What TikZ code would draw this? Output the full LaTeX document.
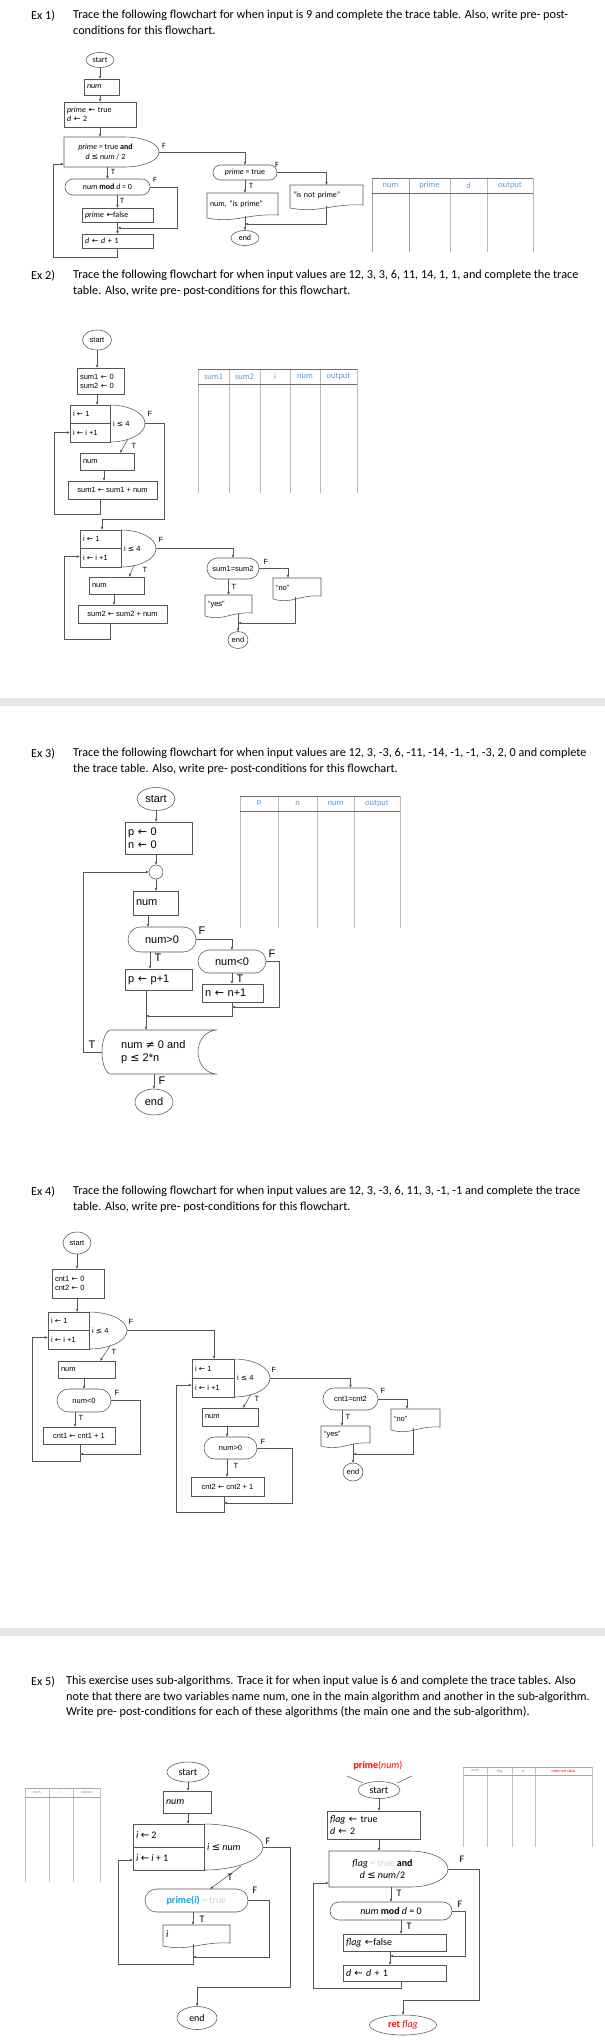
\documentclass[tikz,border=0pt]{standalone}
\usepackage{fontspec}
\setmainfont{Carlito}
\newfontfamily\arial{Liberation Sans}
\newfontfamily\dejavu{DejaVu Sans}
\usetikzlibrary{arrows.meta,shapes.geometric}
\definecolor{lc}{RGB}{85,85,85}
\definecolor{hblue}{RGB}{91,155,213}
\definecolor{cblue}{RGB}{0,170,235}
\definecolor{band}{RGB}{230,230,230}
\newcommand\myla{{\dejavu ←}}
\newcommand\myle{{\dejavu ≤}}
\newcommand\myne{{\dejavu ≠}}
\newcommand\myHD{\fontsize{12.2}{15.5}\selectfont}
\newcommand\myFA{\fontsize{8}{9.5}\selectfont}
\newcommand\myFB{\arial\fontsize{7.5}{9}\selectfont}
\newcommand\myFC{\arial\fontsize{11}{13}\selectfont}
\newcommand\myFD{\fontsize{10}{12}\selectfont}
\newcommand\myTH{\fontsize{8.5}{10}\selectfont}
\newcommand\myTS{\fontsize{4}{5}\selectfont}
\tikzset{
 ln/.style={draw=lc,line width=.55pt},
 arr/.style={ln,-{Latex[length=3.2pt,width=2.8pt]}},
 bx/.style={draw=lc,line width=.55pt,inner sep=0pt,outer sep=0pt,align=center},
 lft/.style={text width=\qW pt-6pt,align=left},
 lab/.style={inner sep=0pt,outer sep=0pt},
 th/.style={inner sep=0pt,text=hblue},
 hd/.style={anchor=north west,inner sep=0pt,align=left,font=\myHD},
 tv/.style={draw=gray!55,line width=.8pt},
 tvd/.style={draw=gray!75,line width=.8pt},
 tt/.style={draw=gray!85!black,line width=1pt},
}
% box
\newcommand\BX[7][]{%
 \pgfmathsetmacro\qW{#5-#3}\pgfmathsetmacro\qH{#6-#4}%
 \node[bx,minimum width=\qW pt,minimum height=\qH pt,#1] (#2) at ({(#3+#5)/2},{(#4+#6)/2}) {#7};}
% stadium
\newcommand\ST[7][]{%
 \pgfmathsetmacro\qW{#5-#3}\pgfmathsetmacro\qH{#6-#4}\pgfmathsetmacro\qR{(#6-#4)/2}%
 \node[bx,rounded corners=\qR pt,minimum width=\qW pt,minimum height=\qH pt,#1] (#2) at ({(#3+#5)/2},{(#4+#6)/2}) {#7};}
% ellipse
\newcommand\EL[7][]{\node[bx,ellipse,minimum width=#5pt,minimum height=#6pt,#1] (#2) at (#3,#4) {#7};}
% document
\newcommand\DC[7][]{%
 \pgfmathsetmacro\qW{#5-#3}\pgfmathsetmacro\qH{#6-#4-4}%
 \node[bx,draw=none,lft,minimum width=\qW pt,minimum height=\qH pt,#1] (#2) at ({(#3+#5)/2},{(#4+#6-4)/2}) {#7};
 \draw[ln] (#3,{#6-2}) -- (#3,#4) -- (#5,#4) -- (#5,{#6-5}) .. controls ({#5-.45*\qW},{#6-6.5}) and ({#3+.4*\qW},{#6+3.5}) .. (#3,{#6-2});}
% decision bullet
\newcommand\DE[8][]{%
 \pgfmathsetmacro\qW{#6-#3}\pgfmathsetmacro\qH{#7-#4}\pgfmathsetmacro\qM{(#4+#7)/2}%
 \pgfmathsetmacro\qX{#5+.5523*(#6-#5)}\pgfmathsetmacro\qA{\qM-.5523*(\qM-#4)}\pgfmathsetmacro\qB{\qM+.5523*(\qM-#4)}%
 \node[bx,draw=none,minimum width=\qW pt,minimum height=\qH pt] (#2) at ({(#3+#6)/2},\qM) {};
 \draw[ln] (#3,#4) -- (#5,#4) .. controls (\qX,#4) and (#6,\qA) .. (#6,\qM) .. controls (#6,\qB) and (\qX,#7) .. (#5,#7) -- (#3,#7) -- cycle;
 \node[inner sep=0pt,align=center,#1] (#2-t) at ({(#3+#6)/2-6},\qM) {#8};}
% loop block
\newcommand\LB[9]{%
 \pgfmathsetmacro\qM{(#3+#6)/2}\pgfmathsetmacro\qW{#5-#2}\pgfmathsetmacro\qH{#6-#3}%
 \pgfmathsetmacro\qX{#4+.5523*(#5-#4)}\pgfmathsetmacro\qA{\qM-.5523*(\qM-#3)}\pgfmathsetmacro\qB{\qM+.5523*(\qM-#3)}%
 \node[bx,draw=none,minimum width=\qW pt,minimum height=\qH pt] (#1) at ({(#2+#5)/2},\qM) {};
 \draw[ln] (#2,#3) rectangle (#4,#6); \draw[ln] (#2,\qM) -- (#4,\qM);
 \draw[ln] (#4,#3) .. controls (\qX,#3) and (#5,\qA) .. (#5,\qM) .. controls (#5,\qB) and (\qX,#6) .. (#4,#6);
 \node[anchor=west,inner sep=0pt] (#1-a) at ({#2+3},{(#3+\qM)/2}) {#7};
 \node[anchor=west,inner sep=0pt] (#1-b) at ({#2+3},{(\qM+#6)/2}) {#8};
 \node[anchor=west,inner sep=0pt] (#1-c) at ({#4+3},\qM) {#9};}
\begin{document}
\begin{tikzpicture}[x=1pt,y=-1pt]
\useasboundingbox (0,0) rectangle (605,2040);
\fill[white] (0,0) rectangle (605,2040);
\fill[band] (0,698) rectangle (605,706);
\fill[band] (0,1628) rectangle (605,1636);
% ---------------- headings
\node[hd] (h1n) at (31,10) {Ex 1)};
\node[hd] (h1t) at (73,10) {Trace the following flowchart for when input is 9 and complete the trace table. Also, write pre- post-\\conditions for this flowchart.};
\node[hd] (h2n) at (31,270) {Ex 2)};
\node[hd] (h2t) at (73,270) {Trace the following flowchart for when input values are 12, 3, 3, 6, 11, 14, 1, 1, and complete the trace\\table. Also, write pre- post-conditions for this flowchart.};
\node[hd] (h3n) at (31,748) {Ex 3)};
\node[hd] (h3t) at (73,748) {Trace the following flowchart for when input values are 12, 3, -3, 6, -11, -14, -1, -1, -3, 2, 0 and complete\\the trace table. Also, write pre- post-conditions for this flowchart.};
\node[hd] (h4n) at (31,1186) {Ex 4)};
\node[hd] (h4t) at (73,1186) {Trace the following flowchart for when input values are 12, 3, -3, 6, 11, 3, -1, -1 and complete the trace\\table. Also, write pre- post-conditions for this flowchart.};
\node[hd] (h5n) at (31,1676) {Ex 5)};
\node[hd] (h5t) at (66,1676) {This exercise uses sub-algorithms. Trace it for when input value is 6 and complete the trace tables. Also\\note that there are two variables name num, one in the main algorithm and another in the sub-algorithm.\\Write pre- post-conditions for each of these algorithms (the main one and the sub-algorithm).};
% ---------------- Ex 1
\begin{scope}[font=\myFA]
\EL{e1s}{100}{60}{28}{15}{start}
\BX[lft]{e1n}{84}{79}{119}{95}{\textit{num}}
\BX[lft]{e1i}{64}{102}{136}{127}{\textit{prime} \myla{} true\\\textit{d} \myla{} 2}
\DE{e1d}{64}{137}{125}{159}{167}{\textit{prime} = true \textbf{and}\\\textit{d} \myle{} \textit{num} / 2}
\ST{e1m}{65}{179}{150}{195}{\textit{num} \textbf{mod} \textit{d} = 0}
\BX[lft]{e1f}{82}{208}{153}{222}{\textit{prime} \myla{}false}
\BX[lft]{e1inc}{82}{234}{153}{248}{\textit{d} \myla{} \textit{d} + 1}
\ST{e1p}{213}{165}{277}{180}{\textit{prime} = true}
\DC{e1o}{207}{193}{278}{220}{num, “is prime”}
\DC{e1x}{290}{185}{363}{210}{“is not prime”}
\EL{e1e}{245}{238}{28}{15}{end}
\draw[arr] (e1s.south) -- (e1s.south |- e1n.north);
\draw[arr] (e1s.south |- e1n.south) -- (e1s.south |- e1i.north);
\draw[arr] (e1s.south |- e1i.south) -- (e1s.south |- e1d.north);
\draw[arr] (e1d.east) -| (e1p.north);
\node[lab] (e1lF1) at (164,146) {F};
\draw[arr] (e1m.north |- e1d.south) -- (e1m.north);
\node[lab] (e1lT1) at (113,172) {T};
\draw[arr] (e1f.north |- e1m.south) -- (e1f.north);
\node[lab] (e1lT2) at (122,201) {T};
\coordinate (e1c1) at (177,228);
\draw[arr] (e1m.east) -| (e1c1) -- (e1f.south |- e1c1);
\node[lab] (e1lF2) at (155,180) {F};
\draw[arr] (e1f.south) -- (e1inc.north);
\coordinate (e1c2) at (53,257);
\draw[arr] (e1inc.south) |- (e1c2) |- ([yshift=-12pt]e1d.west);
\draw[arr] (e1p.south) -- (e1p.south |- e1o.north);
\node[lab] (e1lT3) at (251,186) {T};
\draw[arr] (e1p.east) -| (e1x.north);
\node[lab] (e1lF3) at (277,165) {F};
\coordinate (e1j) at (245,224);
\draw[arr] (e1x.south) |- (e1j);
\draw[arr] (e1p.south |- e1o.south) -- (e1e.north);
\end{scope}
% table 1
\foreach \xx in {372,409} \draw[tvd] (\xx,178) -- (\xx,252);
\foreach \xx in {450,487,533} \draw[tv] (\xx,178) -- (\xx,252);
\draw[tt] (372,178) -- (533,178); \draw[tt] (372,193) -- (533,193);
\begin{scope}[font=\myTH]
\node[th] (t1a) at (390.5,185.5) {num};
\node[th] (t1b) at (429.5,185.5) {prime};
\node[th] (t1c) at (468.5,185.5) {d};
\node[th] (t1d) at (510,185.5) {output};
\end{scope}
% ---------------- Ex 2
\begin{scope}[font=\myFB]
\EL{e2s}{97}{340}{29}{20}{start}
\BX[lft]{e2i}{77}{368}{124}{394}{sum1 \myla{} 0\\sum2 \myla{} 0}
\LB{e2L1}{70}{405}{110}{145}{442}{i \myla{} 1}{i \myla{} i +1}{i \myle{} 4}
\BX[lft]{e2n1}{80}{453}{134}{470}{num}
\BX{e2a1}{68}{481}{157}{499}{sum1 \myla{} sum1 + num}
\LB{e2L2}{80}{530}{121}{156}{567}{i \myla{} 1}{i \myla{} i +1}{i \myle{} 4}
\BX[lft]{e2n2}{89}{577}{144}{594}{num}
\BX{e2a2}{78}{605}{167}{623}{sum2 \myla{} sum2 + num}
\ST{e2q}{207}{558}{259}{579}{sum1=sum2}
\DC{e2y}{205}{595}{252}{618}{“yes”}
\DC{e2no}{273}{578}{321}{601}{“no”}
\EL{e2e}{238}{640}{20}{17}{end}
\draw[arr] (e2s.south) -- (e2s.south |- e2i.north);
\draw[arr] (e2s.south |- e2i.south) -- (e2s.south |- e2L1.north);
\coordinate (e2c1) at (164,519);
\draw[arr] (e2L1.east) -| (e2c1) -| ([xshift=22pt]e2L2.north west);
\node[lab] (e2F1) at (150,414) {F};
\draw[arr] ([xshift=-17pt,yshift=3pt]e2L1.south east) -- ([xshift=40pt]e2n1.north west);
\node[lab] (e2T1) at (134,446) {T};
\draw[arr] ([xshift=24pt]e2n1.south west) -- ([xshift=24pt]e2n1.south west |- e2a1.north);
\coordinate (e2c2) at (54,514);
\draw[arr] ([xshift=32pt]e2a1.south west) |- (e2c2) |- ([yshift=-9pt]e2L1.west);
\draw[arr] (e2L2.east) -| (e2q.north);
\node[lab] (e2F2) at (161,540) {F};
\draw[arr] ([xshift=-22pt,yshift=2pt]e2L2.south east) -- ([xshift=40pt]e2n2.north west);
\node[lab] (e2T2) at (145,570) {T};
\draw[arr] ([xshift=25pt]e2n2.south west) -- ([xshift=25pt]e2n2.south west |- e2a2.north);
\coordinate (e2c3) at (64,639);
\draw[arr] ([xshift=32pt]e2a2.south west) |- (e2c3) |- ([yshift=-8pt]e2L2.west);
\draw[arr] (e2y.north |- e2q.south) -- (e2y.north);
\node[lab] (e2T3) at (234,587) {T};
\draw[arr] (e2q.east) -| ([xshift=15pt]e2no.north west);
\node[lab] (e2F3) at (266,562) {F};
\coordinate (e2j) at (238,623);
\draw[arr] (e2e.north |- e2y.south) -- (e2e.north);
\draw[arr] ([xshift=22pt]e2no.south west) |- (e2j);
\end{scope}
% table 2
\foreach \xx in {198,229,260,290,320,357} \draw[tv] (\xx,369) -- (\xx,493);
\draw[tt] (198,369) -- (357,369); \draw[tt] (198,384) -- (357,384);
\begin{scope}[font=\myTH]
\node[th] (t2a) at (213.5,376.5) {sum1};
\node[th] (t2b) at (244.5,376.5) {sum2};
\node[th] (t2c) at (275,376.5) {i};
\node[th] (t2d) at (305,376.5) {num};
\node[th] (t2e) at (338.5,376.5) {output};
\end{scope}
% ---------------- Ex 3
\begin{scope}[font=\myFC]
\EL{e3s}{156}{799}{38}{23}{start}
\BX[lft]{e3i}{125}{822}{192}{854}{p \myla{} 0\\n \myla{} 0}
\node[bx,circle,minimum size=14pt] (e3c) at (156,872) {};
\BX[lft]{e3n}{133}{891}{178}{915}{num}
\ST{e3g}{128}{927}{196}{952}{num>0}
\ST{e3l}{198}{950}{266}{973}{num<0}
\BX[lft]{e3p}{125}{969}{192}{990}{p \myla{} p+1}
\BX[lft]{e3q}{202}{984}{263}{1002}{n \myla{} n+1}
\node[bx,draw=none,minimum width=115pt,minimum height=44pt] (e3d) at (159.5,1052) {};
\draw[ln] (111,1030) -- (217,1030) .. controls (206.5,1030) and (198,1040) .. (198,1052) .. controls (198,1064) and (206.5,1074) .. (217,1074) -- (111,1074) .. controls (106,1074) and (102,1064) .. (102,1052) .. controls (102,1040) and (106,1030) .. (111,1030) -- cycle;
\node[anchor=west,align=left,inner sep=0pt] (e3d-t) at (121,1052) {num \myne{} 0 and\\p \myle{} 2*n};
\EL{e3e}{154}{1102}{38}{26}{end}
\draw[arr] (e3s.south) -- (e3s.south |- e3i.north);
\draw[arr] (e3s.south |- e3i.south) -- (e3c.north);
\draw[arr] (e3c.south) -- (e3c.south |- e3n.north);
\draw[arr] ([xshift=15pt]e3n.south west) -- ([xshift=15pt]e3n.south west |- e3g.north);
\draw[arr] (e3g.east) -| (e3l.north);
\node[lab] (e3F1) at (202,931) {F};
\draw[arr] ([xshift=22pt]e3g.south west) -- ([xshift=22pt]e3g.south west |- e3p.north);
\node[lab] (e3T1) at (158,958) {T};
\draw[arr] (e3l.south) -- (e3l.south |- e3q.north);
\node[lab] (e3T2) at (240,979) {T};
\coordinate (e3c1) at (279,1007);
\draw[arr] (e3l.east) -| (e3c1) -- (e3l.south |- e3c1);
\node[lab] (e3F2) at (272,954) {F};
\coordinate (e3c2) at (146,1016);
\draw[arr] (e3l.south |- e3q.south) |- (e3c2);
\draw[arr] ([xshift=21pt]e3p.south west) -- ([xshift=21pt]e3p.south west |- e3d.north);
\draw[arr] (e3e.north |- e3d.south) -- (e3e.north);
\node[lab] (e3F3) at (162,1081) {F};
\coordinate (e3c3) at (83,1052);
\draw[arr] (e3d.west) -- (e3c3) |- (e3c.west);
\node[lab] (e3T3) at (92,1045) {T};
\end{scope}
% table 3
\foreach \xx in {240,278,317,354,400} \draw[tv] (\xx,796) -- (\xx,928);
\draw[tt] (240,796) -- (400,796); \draw[tt] (240,811) -- (400,811);
\begin{scope}[font=\myTH]
\node[th] (t3a) at (259,803.5) {p};
\node[th] (t3b) at (297.5,803.5) {n};
\node[th] (t3c) at (335.5,803.5) {num};
\node[th] (t3d) at (377,803.5) {output};
\end{scope}
% ---------------- Ex 4
\begin{scope}[font=\myFB]
\EL{e4s}{77}{1243}{28}{22}{start}
\BX[lft]{e4i}{52}{1269}{104}{1298}{cnt1 \myla{} 0\\cnt2 \myla{} 0}
\LB{e4L1}{48}{1312}{89}{127}{1349}{i \myla{} 1}{i \myla{} i +1}{i \myle{} 4}
\BX[lft]{e4n1}{58}{1361}{115}{1378}{num}
\ST{e4g1}{57}{1389}{111}{1412}{num<0}
\BX{e4a1}{43}{1427}{115}{1444}{cnt1 \myla{} cnt1 + 1}
\LB{e4L2}{192}{1359}{234}{270}{1397}{i \myla{} 1}{i \myla{} i +1}{i \myle{} 4}
\BX[lft]{e4n2}{202}{1408}{258}{1426}{num}
\ST{e4g2}{204}{1437}{257}{1459}{num>0}
\BX{e4a2}{191}{1477}{264}{1496}{cnt2 \myla{} cnt2 + 1}
\ST{e4q}{323}{1388}{378}{1410}{cnt1=cnt2}
\DC{e4y}{321}{1426}{370}{1448}{“yes”}
\DC{e4no}{391}{1409}{440}{1432}{“no”}
\EL{e4e}{353}{1472}{20}{18}{end}
\draw[arr] (e4s.south) -- (e4s.south |- e4i.north);
\draw[arr] (e4s.south |- e4i.south) -- (e4s.south |- e4L1.north);
\draw[arr] (e4L1.east) -| ([xshift=22pt]e4L2.north west);
\node[lab] (e4F1) at (131,1322) {F};
\draw[arr] ([xshift=-17pt,yshift=3pt]e4L1.south east) -- ([xshift=42pt]e4n1.north west);
\node[lab] (e4T1) at (114,1352) {T};
\draw[arr] ([xshift=26pt]e4n1.south west) -- ([xshift=26pt]e4n1.south west |- e4g1.north);
\draw[arr] ([xshift=18pt]e4g1.south west) -- ([xshift=18pt]e4g1.south west |- e4a1.north);
\node[lab] (e4T2) at (81,1418) {T};
\coordinate (e4c1) at (140,1454);
\draw[arr] (e4g1.east) -| (e4c1) -- ([xshift=37pt]e4a1.south west |- e4c1);
\node[lab] (e4F2) at (117,1393) {F};
\coordinate (e4c2) at (32,1461);
\draw[arr] ([xshift=37pt]e4a1.south west) |- (e4c2) |- ([yshift=-7pt]e4L1.west);
\draw[arr] (e4L2.east) -| (e4q.north);
\node[lab] (e4F3) at (274,1370) {F};
\draw[arr] ([xshift=-19pt,yshift=3pt]e4L2.south east) -- ([xshift=41pt]e4n2.north west);
\node[lab] (e4T3) at (257,1399) {T};
\draw[arr] ([xshift=25pt]e4n2.south west) -- ([xshift=25pt]e4n2.south west |- e4g2.north);
\draw[arr] ([xshift=23pt]e4g2.south west) -- ([xshift=23pt]e4g2.south west |- e4a2.north);
\node[lab] (e4T4) at (236,1466) {T};
\coordinate (e4c3) at (292,1503);
\draw[arr] (e4g2.east) -| (e4c3) -- ([xshift=33pt]e4a2.south west |- e4c3);
\node[lab] (e4F4) at (263,1442) {F};
\coordinate (e4c4) at (176,1512);
\draw[arr] ([xshift=33pt]e4a2.south west) |- (e4c4) |- ([yshift=-7pt]e4L2.west);
\draw[arr] ([xshift=19pt]e4q.south west) -- ([xshift=19pt]e4q.south west |- e4y.north);
\node[lab] (e4T5) at (348,1417) {T};
\draw[arr] (e4q.east) -| ([xshift=16pt]e4no.north west);
\node[lab] (e4F5) at (383,1391) {F};
\coordinate (e4j) at (353,1454);
\draw[arr] (e4e.north |- e4y.south) -- (e4e.north);
\draw[arr] ([xshift=22pt]e4no.south west) |- (e4j);
\end{scope}
% ---------------- Ex 5 main
\begin{scope}[font=\myFD]
\EL{e5s}{188}{1772}{42}{20}{start}
\BX[lft]{e5n}{163}{1791}{211}{1813}{\textit{num}}
\LB{e5L}{133}{1824}{204}{263}{1870}{\textit{i} \myla{} 2}{\textit{i} \myla{} \textit{i} + 1}{\textit{i} \myle{} \textit{num}}
\ST{e5g}{145}{1889}{248}{1912}{\textcolor{cblue}{\textbf{prime(\textit{i})}} \textcolor{gray!35}{= true}}
\DC{e5o}{163}{1925}{230}{1948}{\textit{i}}
\EL{e5e}{197}{2018}{40}{23}{end}
\draw[arr] (e5s.south) -- (e5s.south |- e5n.north);
\draw[arr] (e5s.south |- e5n.south) -- (e5s.south |- e5L.north);
\coordinate (e5c1) at (290,1987);
\draw[arr] (e5L.east) -| (e5c1) -| (e5e.north);
\node[lab] (e5F1) at (268,1841) {F};
\draw[arr] ([xshift=-22pt,yshift=4pt]e5L.south east) -- ([xshift=65pt]e5g.north west);
\node[lab] (e5T1) at (230,1877) {T};
\draw[arr] ([xshift=48pt]e5g.south west) -- ([xshift=48pt]e5g.south west |- e5o.north);
\node[lab] (e5T2) at (202,1919) {T};
\coordinate (e5c2) at (269,1957);
\draw[arr] (e5g.east) -| (e5c2) -- ([xshift=30pt]e5o.south west |- e5c2);
\node[lab] (e5F2) at (255,1890) {F};
\coordinate (e5c3) at (118,1964);
\draw[arr] ([xshift=30pt]e5o.south west) |- (e5c3) |- ([yshift=-13pt]e5L.west);
% sub-algorithm
\node[inner sep=0pt] (e5title) at (378,1766) {\textcolor{red}{\textbf{prime}(\textit{num})}};
\draw[ln] (347,1776) -- (363,1783);
\draw[ln] (397,1783) -- (412,1776);
\EL{e5ss}{379}{1790}{42}{17}{start}
\BX[lft]{e5si}{327}{1811}{420}{1839}{\textit{flag} \myla{} true\\\textit{d} \myla{} 2}
\DE{e5sd}{329}{1851}{410}{448}{1887}{\textit{flag} \textcolor{gray!35}{= true} \textbf{and}\\\textit{d} \myle{} \textit{num}/2}
\ST{e5sm}{330}{1902}{452}{1920}{\textit{num} \textbf{mod} \textit{d} = 0}
\BX[lft]{e5sf}{343}{1934}{446}{1951}{\textit{flag} \myla{}false}
\BX[lft]{e5sinc}{343}{1965}{446}{1981}{\textit{d} \myla{} \textit{d} + 1}
\EL{e5se}{403}{2025}{67}{20}{\textcolor{red}{\textbf{ret} \textit{flag}}}
\draw[arr] (e5ss.south) -- (e5ss.south |- e5si.north);
\draw[arr] (e5ss.south |- e5si.south) -- (e5ss.south |- e5sd.north);
\coordinate (e5sc1) at (479,2000);
\draw[arr] (e5sd.east) -| (e5sc1) -| (e5se.north);
\node[lab] (e5sF1) at (462,1859) {F};
\draw[arr] (e5sm.north |- e5sd.south) -- (e5sm.north);
\node[lab] (e5sT1) at (399,1893) {T};
\draw[arr] ([xshift=58pt]e5sf.north west |- e5sm.south) -- ([xshift=58pt]e5sf.north west);
\node[lab] (e5sT2) at (409,1926) {T};
\coordinate (e5sc2) at (465,1956);
\draw[arr] (e5sm.east) -| (e5sc2) -- ([xshift=47pt]e5sf.south west |- e5sc2);
\node[lab] (e5sF2) at (460,1904) {F};
\draw[arr] ([xshift=47pt]e5sf.south west) -- ([xshift=47pt]e5sf.south west |- e5sinc.north);
\coordinate (e5sc3) at (313,1988);
\draw[arr] ([xshift=58pt]e5sinc.south west) |- (e5sc3) |- ([yshift=-14pt]e5sd.west);
\end{scope}
% tables 5
\foreach \xx in {25,49,73,100} \draw[draw=gray!50,line width=.5pt] (\xx,1788) -- (\xx,1882);
\draw[draw=gray!70,line width=.6pt] (25,1788) -- (100,1788); \draw[draw=gray!70,line width=.6pt] (25,1797) -- (100,1797);
\foreach \xx in {463,487,512,535,592} \draw[draw=gray!50,line width=.5pt] (\xx,1767) -- (\xx,1847);
\draw[draw=gray!70,line width=.6pt] (463,1767) -- (592,1767); \draw[draw=gray!70,line width=.6pt] (463,1775) -- (592,1775);
\begin{scope}[font=\myTS]
\node[th] (t5a) at (37,1792.5) {num};
\node[th] (t5b) at (61,1792.5) {i};
\node[th] (t5c) at (86.5,1792.5) {output};
\node[th] (t5d) at (475,1771) {num};
\node[th] (t5e) at (499.5,1771) {flag};
\node[th] (t5f) at (523.5,1771) {d};
\node[th,text=red] (t5g) at (563.5,1771) {returned value};
\end{scope}
\end{tikzpicture}
\end{document}
